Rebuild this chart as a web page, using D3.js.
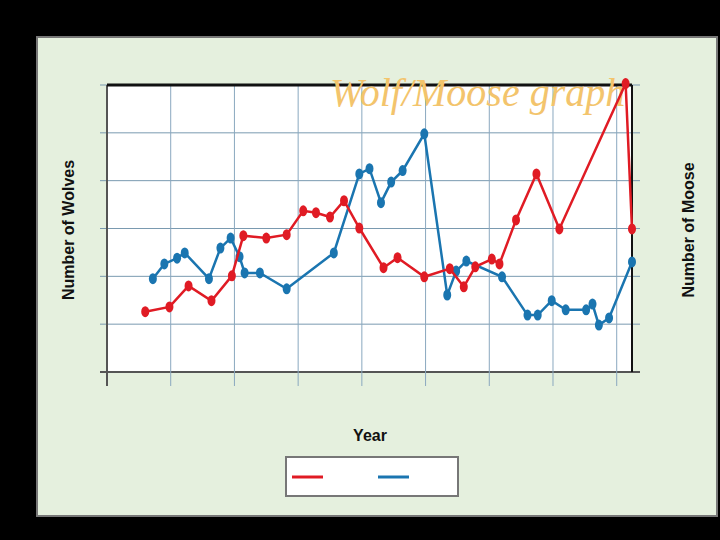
<!DOCTYPE html><html><head><meta charset="utf-8"><script src="https://d3js.org/d3.v7.min.js"></script>
<style>body{margin:0;background:#000}</style></head><body><svg id="c" width="720" height="540"></svg><script>
const wolfYears=[1958.0,1959.9,1961.4,1963.2,1964.8,1965.7,1967.5,1969.1,1970.4,1971.4,1972.5,1973.6,1974.8,1976.7,1977.8,1979.9,1981.9,1983.0,1983.9,1985.2,1985.8,1987.1,1988.7,1990.5,1995.7,1996.2];
const wolfValues=[1.26,1.36,1.8,1.49,2.01,2.85,2.8,2.87,3.37,3.33,3.24,3.58,3.01,2.18,2.39,1.99,2.16,1.78,2.2,2.36,2.26,3.18,4.14,2.99,6.03,2.99];
const mooseYears=[1958.6,1959.5,1960.5,1961.1,1963.0,1963.9,1964.7,1965.4,1965.8,1967.0,1969.1,1972.8,1974.8,1975.6,1976.5,1977.3,1978.2,1979.9,1981.7,1982.4,1983.2,1986.0,1988.0,1988.8,1989.9,1991.0,1992.6,1993.1,1993.6,1994.4,1996.2];
const mooseValues=[1.95,2.26,2.38,2.49,1.95,2.59,2.8,2.41,2.07,2.07,1.74,2.49,4.14,4.25,3.54,3.97,4.21,4.98,1.61,2.11,2.32,1.99,1.19,1.19,1.49,1.3,1.3,1.42,0.98,1.13,2.3];
const xTicks=[1955,1960,1965,1970,1975,1980,1985,1990,1995];
const yTicks=[0,1,2,3,4,5,6];
const svg=d3.select("#c");
svg.append("rect").attr("x",37).attr("y",37).attr("width",680).attr("height",479).attr("fill","#e5f0de").attr("stroke","#777").attr("stroke-width",2);
const x=d3.scaleLinear().domain([1955,1996.2]).range([107,632]);
const y=d3.scaleLinear().domain([0,6]).range([372,85]);
svg.append("rect").attr("x",107).attr("y",85).attr("width",525).attr("height",287).attr("fill","#fff");
const g=svg.append("g");
g.selectAll(".hg").data(yTicks).join("line").attr("x1",100).attr("x2",640).attr("y1",d=>y(d)).attr("y2",d=>y(d)).attr("stroke",d=>d==0?"#555":"#7a9ab0").attr("stroke-width",d=>d==0?2:1);
g.selectAll(".vg").data(xTicks).join("line").attr("x1",d=>x(d)).attr("x2",d=>x(d)).attr("y1",85).attr("y2",386).attr("stroke","#8aa8bf").attr("stroke-width",1);
svg.append("line").attr("x1",107).attr("x2",107).attr("y1",85).attr("y2",386).attr("stroke","#555").attr("stroke-width",2);
svg.append("line").attr("x1",632).attr("x2",632).attr("y1",85).attr("y2",372).attr("stroke","#111").attr("stroke-width",2);
svg.append("line").attr("x1",107).attr("x2",632).attr("y1",85).attr("y2",85).attr("stroke","#111").attr("stroke-width",3);
svg.append("text").attr("x",330).attr("y",106).attr("font-family","Liberation Serif").attr("font-style","italic").attr("font-size",40).attr("fill","#f3c46c").text("Wolf/Moose graph");
function series(xs,vs,col){
  const pts=xs.map((d,i)=>[d,vs[i]]);
  svg.append("path").datum(pts).attr("d",d3.line().x(d=>x(d[0])).y(d=>y(d[1]))).attr("fill","none").attr("stroke",col).attr("stroke-width",2.5);
  svg.append("g").selectAll("ellipse").data(pts).join("ellipse").attr("cx",d=>x(d[0])).attr("cy",d=>y(d[1])).attr("rx",4).attr("ry",5.5).attr("fill",col);
}
series(mooseYears,mooseValues,"#1a75b0");
series(wolfYears,wolfValues,"#e01b24");
svg.append("text").attr("transform","translate(74,230) rotate(-90)").attr("text-anchor","middle").attr("font-family","Liberation Sans").attr("font-weight","bold").attr("font-size",16).attr("fill","#111").text("Number of Wolves");
svg.append("text").attr("transform","translate(694,230) rotate(-90)").attr("text-anchor","middle").attr("font-family","Liberation Sans").attr("font-weight","bold").attr("font-size",16).attr("fill","#111").text("Number of Moose");
svg.append("text").attr("x",370).attr("y",441).attr("text-anchor","middle").attr("font-family","Liberation Sans Narrow, Liberation Sans").attr("font-weight","bold").attr("font-size",16).attr("fill","#111").text("Year");
svg.append("rect").attr("x",286).attr("y",457).attr("width",172).attr("height",39).attr("fill","#fff").attr("stroke","#777").attr("stroke-width",2);
const leg=[{c:"#e01b24",x:292},{c:"#1a75b0",x:378}];
svg.selectAll(".lg").data(leg).join("line").attr("x1",d=>d.x).attr("x2",d=>d.x+31).attr("y1",477).attr("y2",477).attr("stroke",d=>d.c).attr("stroke-width",3);
</script></body></html>
